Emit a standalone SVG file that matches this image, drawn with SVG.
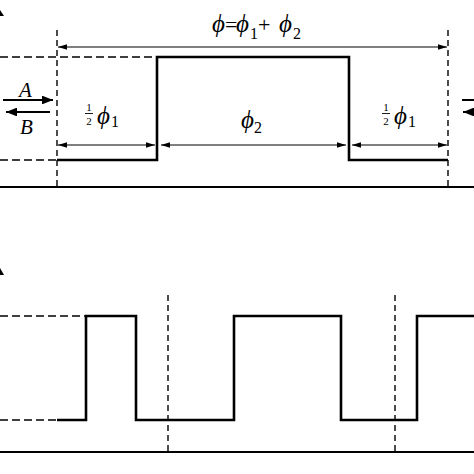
<svg xmlns="http://www.w3.org/2000/svg" width="474" height="474" viewBox="0 0 474 474">
<style>
.wave{fill:none;stroke:#000;stroke-width:2.6;stroke-linejoin:miter}
.base{fill:none;stroke:#000;stroke-width:2}
.dashh{fill:none;stroke:#000;stroke-width:1.4;stroke-dasharray:8,4}
.dashv{fill:none;stroke:#000;stroke-width:1.4;stroke-dasharray:6,4}
.dim{fill:none;stroke:#000;stroke-width:1.2}
.big{fill:none;stroke:#000;stroke-width:2}
.t{font-family:"Liberation Serif","Times New Roman",serif;font-style:italic;font-size:21px;fill:#000}
.p{font-family:"Liberation Serif","Times New Roman",serif;font-style:italic;font-size:25px;fill:#000}
.n{font-family:"Liberation Serif","Times New Roman",serif;font-size:22px;fill:#000}
.s{font-family:"Liberation Serif","Times New Roman",serif;font-size:16px;fill:#000}
.f{font-family:"Liberation Serif","Times New Roman",serif;font-size:11px;fill:#000}
</style>
<defs>
<marker id="ah" viewBox="0 0 10 6" refX="10" refY="3" markerWidth="9" markerHeight="5.4" markerUnits="userSpaceOnUse" orient="auto-start-reverse"><path d="M0,0 L10,3 L0,6 Z" fill="#000"/></marker>
<marker id="bh" viewBox="0 0 10 8" refX="10" refY="4" markerWidth="11" markerHeight="8.8" markerUnits="userSpaceOnUse" orient="auto-start-reverse"><path d="M0,0 L10,4 L0,8 Z" fill="#000"/></marker>
</defs>

<g id="top-panel">
  <path class="base" d="M0,187 H474"/>
  <path d="M0,10 L4,16 L0,16 Z" fill="#000"/>
  <path class="dashh" d="M0,57 H157"/>
  <path class="dashh" d="M0,160 H57"/>
  <path class="dashv" d="M57,30 V187"/>
  <path class="dashv" d="M448,30 V187"/>
  <path class="wave" d="M57,160 H157 V57 H349 V160 H448"/>
</g>

<g id="connectors">
  <path class="dim" d="M58,47 H447" marker-start="url(#ah)" marker-end="url(#ah)"/>
  <path class="dim" d="M58,145 H155" marker-start="url(#ah)" marker-end="url(#ah)"/>
  <path class="dim" d="M161,145 H346" marker-start="url(#ah)" marker-end="url(#ah)"/>
  <path class="dim" d="M352,145 H447" marker-start="url(#ah)" marker-end="url(#ah)"/>
  <path class="big" d="M3,100 H53" marker-end="url(#bh)"/>
  <path class="big" d="M50,112 H6" marker-end="url(#bh)"/>
  <path class="big" d="M462,100 H474"/>
  <path class="big" d="M474,112 H463" marker-end="url(#bh)"/>
</g>

<g id="labels">
  <text class="t" x="19" y="97">A</text>
  <text class="t" x="20" y="134">B</text>
  <text y="32"><tspan class="p" x="212">ϕ</tspan><tspan class="n" x="225">=</tspan><tspan class="p" x="236">ϕ</tspan><tspan class="s" x="250" dy="7">1</tspan><tspan class="n" x="258" dy="-7">+</tspan><tspan class="p" x="279">ϕ</tspan><tspan class="s" x="293" dy="7">2</tspan></text>
  <text y="128"><tspan class="p" x="241">ϕ</tspan><tspan class="s" x="254" dy="5">2</tspan></text>
  <g id="half-left">
    <text class="f" x="89" y="111" text-anchor="middle">1</text>
    <path d="M85,113.5 H93" stroke="#000" stroke-width="0.9"/>
    <text class="f" x="89" y="125" text-anchor="middle">2</text>
    <text y="124"><tspan class="p" x="97">ϕ</tspan><tspan class="s" x="111" dy="3">1</tspan></text>
  </g>
  <g id="half-right">
    <text class="f" x="386" y="111" text-anchor="middle">1</text>
    <path d="M382,113.5 H390" stroke="#000" stroke-width="0.9"/>
    <text class="f" x="386" y="125" text-anchor="middle">2</text>
    <text y="124"><tspan class="p" x="394">ϕ</tspan><tspan class="s" x="408" dy="3">1</tspan></text>
  </g>
</g>

<g id="bottom-panel">
  <path class="base" d="M0,452 H474"/>
  <path d="M0,268 L4,275 L0,275 Z" fill="#000"/>
  <path class="dashh" d="M0,316 H86"/>
  <path class="dashh" d="M0,420 H57"/>
  <path class="dashv" d="M168,295 V452"/>
  <path class="dashv" d="M395,295 V452"/>
  <path class="wave" d="M57,420 H86 V316 H136 V420 H234 V316 H341 V420 H417 V316 H474"/>
</g>
</svg>
